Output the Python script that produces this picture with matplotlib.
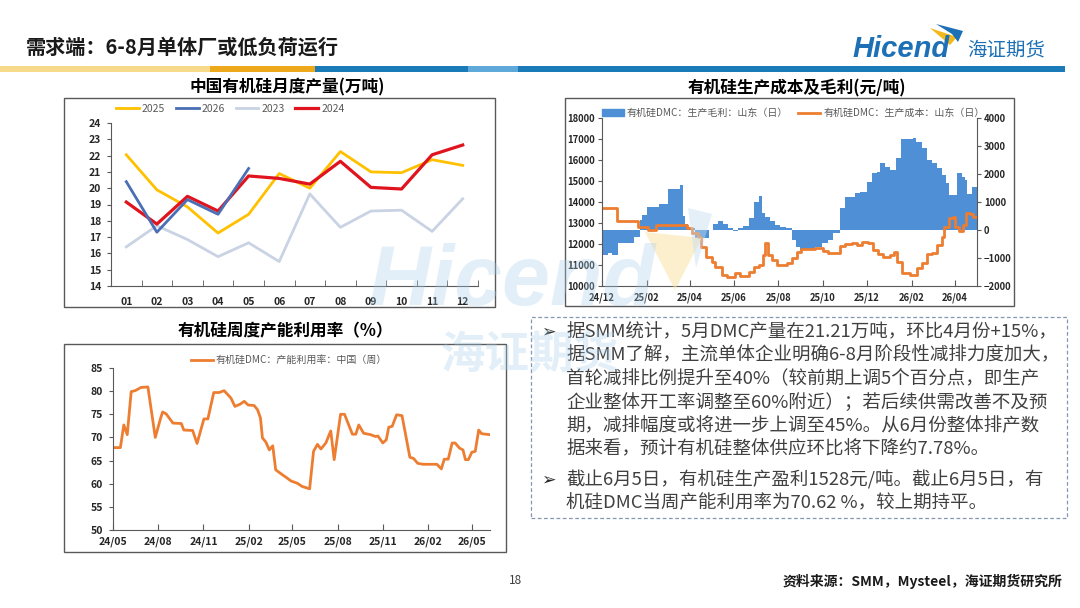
import matplotlib
matplotlib.use("Agg")
import matplotlib.pyplot as plt
import matplotlib.dates as mdates
from matplotlib.patches import Rectangle, Polygon, Patch
from matplotlib.lines import Line2D
import numpy as np
import pandas as pd

plt.rcParams["font.family"] = ["Noto Sans CJK SC", "DejaVu Sans"]

# ---- monthly production (万吨) ----
months = ["01", "02", "03", "04", "05", "06", "07", "08", "09", "10", "11", "12"]
prod_2025 = [22.05, 19.9, 18.85, 17.25, 18.4, 20.9, 20.0, 22.25, 21.0, 20.95, 21.75, 21.4]
prod_2026 = [20.4, 17.3, 19.3, 18.4, 21.21]
prod_2023 = [16.4, 17.7, 16.85, 15.8, 16.65, 15.5, 19.65, 17.6, 18.6, 18.65, 17.35, 19.35]
prod_2024 = [19.15, 17.8, 19.5, 18.6, 20.75, 20.6, 20.25, 21.65, 20.05, 19.95, 22.05, 22.65]

# ---- daily profit (right axis), change dates -> value ----
profit_dates = ["2024-12-01", "2024-12-09", "2024-12-15", "2024-12-23", "2025-01-14", "2025-01-22",
                "2025-01-25", "2025-02-01", "2025-02-17", "2025-03-02", "2025-03-19", "2025-03-22",
                "2025-03-23", "2025-03-25", "2025-03-29", "2025-04-01", "2025-04-08", "2025-04-27",
                "2025-05-03", "2025-05-10", "2025-05-17", "2025-05-24", "2025-05-31", "2025-06-07",
                "2025-06-14", "2025-06-21", "2025-06-28", "2025-07-05", "2025-07-09", "2025-07-14",
                "2025-07-21", "2025-07-28", "2025-08-04", "2025-08-11", "2025-08-20", "2025-08-25",
                "2025-08-31", "2025-09-21", "2025-09-30", "2025-10-09", "2025-10-16", "2025-10-25",
                "2025-11-01", "2025-11-15", "2025-11-22", "2025-12-01", "2025-12-08", "2025-12-15",
                "2025-12-19", "2025-12-26", "2026-01-02", "2026-01-11", "2026-01-17", "2026-02-03",
                "2026-02-07", "2026-02-15", "2026-02-22", "2026-03-01", "2026-03-08", "2026-03-15",
                "2026-03-20", "2026-03-25", "2026-04-04", "2026-04-11", "2026-04-16", "2026-04-18",
                "2026-04-25", "2026-05-02"]
profit = [-900, -830, -900, -480, -250, 360,
          540, 830, 930, 1450, 1600, 1680,
          500, 200, 100, 60, -300, 0,
          215, 334, 215, 60, -30, 60,
          143, 417, 1013, 1230, 596, 477,
          334, 179, 119, 60, -360, -600,
          -715, -596, -477, -358, -119, 775,
          1192, 1311, 1371, 1728, 2026, 2086,
          2408, 2265, 2145, 2563, 3242, 3278,
          3158, 2920, 2503, 2408, 2205, 1967,
          1669, 1252, 2050, 1907, 1788, 1287,
          1528, 1528]

# ---- daily production cost (left axis) ----
cost_dates = ["2024-12-01", "2024-12-21", "2025-01-20", "2025-02-03", "2025-02-14", "2025-03-28",
              "2025-04-04", "2025-04-13", "2025-04-17", "2025-04-24", "2025-05-01", "2025-05-06",
              "2025-05-15", "2025-05-22", "2025-06-02", "2025-06-09", "2025-06-21", "2025-06-28",
              "2025-07-05", "2025-07-11", "2025-07-14", "2025-07-18", "2025-07-23", "2025-07-30",
              "2025-08-13", "2025-08-20", "2025-08-27", "2025-09-02", "2025-09-21", "2025-10-02",
              "2025-10-09", "2025-10-25", "2025-11-01", "2025-11-10", "2025-11-17", "2025-11-24",
              "2025-12-03", "2025-12-10", "2025-12-17", "2025-12-24", "2026-01-02", "2026-01-07",
              "2026-01-12", "2026-01-18", "2026-01-30", "2026-02-08", "2026-02-15", "2026-02-22",
              "2026-03-01", "2026-03-08", "2026-03-15", "2026-03-18", "2026-03-24", "2026-03-30",
              "2026-04-02", "2026-04-07", "2026-04-13", "2026-04-17", "2026-04-23", "2026-04-27",
              "2026-05-02"]
cost = [13700, 13110, 12825, 12667, 12905, 12750,
        12540, 12350, 11870, 11400, 11160, 10920,
        10520, 10440, 10600, 10490, 10680, 10920,
        11000, 11480, 12030, 11480, 11240, 11000,
        11110, 11320, 11600, 11750, 11800, 11680,
        11560, 11900, 12000, 12060, 11950, 12110,
        12030, 11710, 11520, 11400, 11480, 11640,
        11160, 10600, 10520, 10840, 11110, 11520,
        11590, 11950, 12350, 12830, 13220, 13300,
        12830, 12640, 12900, 13490, 13430, 13270,
        13270]

# ---- weekly capacity utilisation (%) ----
util_dates = ["2024-05-03", "2024-05-16", "2024-05-23", "2024-05-30", "2024-06-07", "2024-06-15",
              "2024-06-27", "2024-07-11", "2024-07-26", "2024-08-06", "2024-08-10", "2024-08-17",
              "2024-08-31", "2024-09-17", "2024-09-22", "2024-10-10", "2024-10-19", "2024-11-02",
              "2024-11-10", "2024-11-22", "2024-12-03", "2024-12-13", "2024-12-27", "2025-01-04",
              "2025-01-15", "2025-01-23", "2025-01-31", "2025-02-12", "2025-02-19", "2025-02-25",
              "2025-03-01", "2025-03-08", "2025-03-15", "2025-03-22", "2025-03-28", "2025-04-11",
              "2025-04-18", "2025-04-28", "2025-05-11", "2025-05-21", "2025-06-05", "2025-06-13",
              "2025-06-21", "2025-06-28", "2025-07-08", "2025-07-18", "2025-07-25", "2025-08-07",
              "2025-08-15", "2025-08-31", "2025-09-07", "2025-09-13", "2025-09-23", "2025-10-07",
              "2025-10-17", "2025-10-22", "2025-11-01", "2025-11-08", "2025-11-13", "2025-11-20",
              "2025-11-29", "2025-12-10", "2025-12-26", "2026-01-02", "2026-01-11", "2026-01-22",
              "2026-02-19", "2026-02-28", "2026-03-06", "2026-03-14", "2026-03-22", "2026-03-28",
              "2026-04-06", "2026-04-13", "2026-04-18", "2026-04-24", "2026-05-01", "2026-05-08",
              "2026-05-15", "2026-05-21", "2026-06-05"]
util = [67.8, 67.8, 72.7, 70.6, 79.9, 80.1,
        80.8, 80.9, 70.0, 74.2, 75.5, 75.1,
        73.1, 73.0, 71.6, 71.5, 68.7, 74.0,
        74.0, 79.7, 79.7, 80.1, 78.5, 76.7,
        77.2, 77.8, 77.0, 76.9, 76.0, 74.2,
        69.9, 69.0, 67.3, 68.2, 63.0, 61.9,
        61.4, 60.6, 60.1, 59.4, 58.9, 67.0,
        68.5, 67.5, 68.8, 71.4, 65.2, 75.0,
        75.0, 70.7, 70.7, 72.7, 70.9, 70.6,
        70.2, 70.3, 68.8, 69.5, 72.2, 72.4,
        74.9, 74.7, 65.7, 65.5, 64.4, 64.2,
        64.2, 63.2, 65.3, 65.3, 68.8, 68.8,
        67.7, 67.3, 65.2, 65.2, 66.8, 67.0,
        71.6, 70.8, 70.62]

bullet1 = ["据SMM统计，5月DMC产量在21.21万吨，环比4月份+15%，",
           "据SMM了解，主流单体企业明确6-8月阶段性减排力度加大，",
           "首轮减排比例提升至40%（较前期上调5个百分点，即生产",
           "企业整体开工率调整至60%附近）；若后续供需改善不及预",
           "期，减排幅度或将进一步上调至45%。从6月份整体排产数",
           "据来看，预计有机硅整体供应环比将下降约7.78%。"]
bullet2 = ["截止6月5日，有机硅生产盈利1528元/吨。截止6月5日，有",
           "机硅DMC当周产能利用率为70.62 %，较上期持平。"]

W, H = 1080, 608
fig = plt.figure(figsize=(W / 100, H / 100), dpi=100)


def box(l, t, r, b):
    return fig.add_axes([l / W, 1 - b / H, (r - l) / W, (b - t) / H])


def ftext(x, y, s, **kw):
    return fig.text(x / W, 1 - y / H, s, **kw)


def frame(l, t, r, b, **kw):
    fig.add_artist(Rectangle((l / W, 1 - b / H), (r - l) / W, (b - t) / H,
                             transform=fig.transFigure, fill=False, **kw))


def poly(pts, **kw):
    fig.add_artist(Polygon([(x / W, 1 - y / H) for x, y in pts],
                           transform=fig.transFigure, **kw))


TICK = dict(fontsize=7.5, fontweight="bold", color="#262626")
LEG = "#595959"

# ---- header ----
ftext(26, 47, "需求端：6-8月单体厂或低负荷运行", fontsize=14.5, fontweight="bold",
      color="#1a1a1a", va="center")
for l, r, c in [(0, 210, "#F7D98A"), (210, 315, "#EEA81C"), (315, 468, "#1B7BB8"),
                (468, 518, "#5EA8DA"), (518, 1065, "#1B7BB8")]:
    fig.add_artist(Rectangle((l / W, 1 - 72 / H), (r - l) / W, 6 / H,
                             transform=fig.transFigure, color=c, lw=0))
ftext(852, 49, "Hicend", fontsize=21, fontweight="bold", fontstyle="italic",
      family="Liberation Sans", color="#1D70B6", va="center")
ftext(967, 50, "海证期货", fontsize=14, color="#1D70B6", va="center")
poly([(930, 28), (957, 37), (950, 45)], color="#F3B81B", lw=0)
poly([(936, 24), (963, 31), (958, 42), (952, 34)], color="#1D70B6", lw=0)

# ---- chart 1: monthly production ----
frame(64, 98, 495, 307, edgecolor="#595959", lw=1)
ftext(287, 87, "中国有机硅月度产量(万吨)", fontsize=12, fontweight="bold", ha="center", va="center")
ax1 = box(111, 123, 478, 286)
x = np.arange(1, 13)
l23, = ax1.plot(x, prod_2023, color="#C9D3E3", lw=2)
l25, = ax1.plot(x, prod_2025, color="#FFC000", lw=2)
l24, = ax1.plot(x, prod_2024, color="#E0141E", lw=2.3)
l26, = ax1.plot(x[:len(prod_2026)], prod_2026, color="#4A6FB5", lw=2)
ax1.set_xlim(0.5, 12.5)
ax1.set_ylim(14, 24)
ax1.set_yticks(range(14, 25))
ax1.set_xticks(x)
ax1.set_xticklabels(months)
ax1.set_xticks(np.arange(1.5, 13, 1), minor=True)
ax1.tick_params(axis="x", which="major", length=0, pad=8)
ax1.tick_params(axis="x", which="minor", direction="in", length=4, color="#595959")
ax1.tick_params(axis="y", direction="out", length=3, color="#595959", pad=4)
for lab in ax1.get_xticklabels() + ax1.get_yticklabels():
    lab.set(**TICK)
for s in ["top", "right"]:
    ax1.spines[s].set_visible(False)
for s in ["left", "bottom"]:
    ax1.spines[s].set_color("#595959")
fig.legend([l25, l26, l23, l24], ["2025", "2026", "2023", "2024"], loc="center left",
           bbox_to_anchor=(116 / W, 1 - 109 / H), ncol=4, frameon=False, fontsize=7.5,
           handlelength=2.2, handletextpad=0.3, columnspacing=1.0, labelcolor=LEG,
           borderaxespad=0, borderpad=0)

# ---- chart 2: cost and profit ----
frame(565, 98, 1014, 306, edgecolor="#595959", lw=1)
ftext(797, 88, "有机硅生产成本及毛利(元/吨)", fontsize=12, fontweight="bold", ha="center", va="center")
axp = box(602, 118, 977, 286)
axc = axp.twinx()          # cost line drawn above the profit area
pd_dates = pd.to_datetime(profit_dates)
cd_dates = pd.to_datetime(cost_dates)
axp.fill_between(pd_dates, profit, 0, step="post", color="#4E8FD6", lw=0)
axp.set_ylim(-2000, 4000)
axp.set_yticks(range(-2000, 4001, 1000))
axc.step(cd_dates, cost, where="post", color="#ED7D31", lw=2)
axc.set_ylim(10000, 18000)
axc.set_yticks(range(10000, 18001, 1000))
axp.yaxis.tick_right()
axc.yaxis.tick_left()
axp.set_xlim(pd.Timestamp("2024-12-01"), pd.Timestamp("2026-05-02"))
ticks2 = pd.date_range("2024-12-01", "2026-04-01", freq="2MS")
axp.set_xticks(ticks2)
axp.xaxis.set_major_formatter(mdates.DateFormatter("%y/%m"))
axp.tick_params(axis="x", direction="in", length=4, color="#595959", pad=5)
axp.tick_params(axis="y", direction="out", length=3, color="#595959", pad=2)
axc.tick_params(axis="y", direction="out", length=3, color="#595959", pad=2)
for lab in axp.get_xticklabels() + axp.get_yticklabels() + axc.get_yticklabels():
    lab.set(fontsize=6.8, fontweight="bold", color="#262626")
for a in (axp, axc):
    for s in a.spines.values():
        s.set_visible(False)
axp.spines["right"].set_visible(True)
axp.spines["bottom"].set_visible(True)
axc.spines["left"].set_visible(True)
for s in (axp.spines["right"], axp.spines["bottom"], axc.spines["left"]):
    s.set_color("#595959")
fig.legend([Patch(color="#4E8FD6"), Line2D([], [], color="#ED7D31", lw=2)],
           ["有机硅DMC：生产毛利：山东（日）", "有机硅DMC：生产成本：山东（日）"],
           loc="center left", bbox_to_anchor=(602 / W, 1 - 113 / H), ncol=2, frameon=False,
           fontsize=7.2, handlelength=2.2, handleheight=0.7, handletextpad=0.3,
           columnspacing=1.0, labelcolor=LEG, borderaxespad=0, borderpad=0)

# ---- chart 3: weekly utilisation ----
frame(64, 344, 506, 552, edgecolor="#595959", lw=1)
ftext(285, 331, "有机硅周度产能利用率（%）", fontsize=12, fontweight="bold", ha="center", va="center")
ax3 = box(113, 368, 490, 530)
ax3.plot(pd.to_datetime(util_dates), util, color="#ED7D31", lw=2)
ax3.set_ylim(50, 85)
ax3.set_yticks(range(50, 86, 5))
ax3.set_xlim(pd.Timestamp("2024-05-01"), pd.Timestamp("2026-06-07"))
ax3.set_xticks(pd.date_range("2024-05-01", "2026-05-01", freq="3MS"))
ax3.xaxis.set_major_formatter(mdates.DateFormatter("%y/%m"))
ax3.tick_params(axis="x", direction="in", length=4, color="#595959", pad=5)
ax3.tick_params(axis="y", direction="out", length=3, color="#595959", pad=4)
for lab in ax3.get_xticklabels() + ax3.get_yticklabels():
    lab.set(**TICK)
for s in ["top", "right"]:
    ax3.spines[s].set_visible(False)
for s in ["left", "bottom"]:
    ax3.spines[s].set_color("#595959")
fig.legend([Line2D([], [], color="#ED7D31", lw=2)], ["有机硅DMC：产能利用率：中国（周）"],
           loc="center", bbox_to_anchor=(289 / W, 1 - 360 / H), frameon=False, fontsize=7.2,
           handlelength=2.2, handletextpad=0.3, labelcolor=LEG, borderaxespad=0, borderpad=0)

# ---- commentary box ----
frame(531, 317, 1067, 518, edgecolor="#8497B0", lw=0.9, linestyle=(0, (3, 2)))
TXT = dict(fontsize=13.3, color="#404040", va="center")
ftext(541, 332, "➢", fontsize=12.5, color="#262626", va="center",
      family=["DejaVu Sans", "Noto Sans CJK SC"])
for i, line in enumerate(bullet1):
    ftext(566, 332 + i * 23.5, line, **TXT)
ftext(541, 480, "➢", fontsize=12.5, color="#262626", va="center",
      family=["DejaVu Sans", "Noto Sans CJK SC"])
for i, line in enumerate(bullet2):
    ftext(566, 480 + i * 23.5, line, **TXT)

# ---- watermark ----
ftext(368, 283, "Hicend", fontsize=62, fontweight="bold", fontstyle="italic",
      family="Liberation Sans", color="#A9CFEA", alpha=0.32, va="center", zorder=10)
ftext(440, 355, "海证期货", fontsize=32, fontweight="bold", color="#A9CFEA", alpha=0.32,
      va="center", zorder=10)
poly([(645, 232), (702, 238), (675, 290)], color="#FBE3A6", alpha=0.55, lw=0, zorder=10)
poly([(688, 208), (712, 214), (696, 268)], color="#C4DDF0", alpha=0.45, lw=0, zorder=10)

# ---- footer ----
ftext(516, 581, "18", fontsize=8.5, color="#404040", ha="center", va="center")
ftext(1062, 581, "资料来源：SMM，Mysteel，海证期货研究所", fontsize=10, fontweight="bold",
      color="#1a1a1a", ha="right", va="center")

fig.savefig("out.png", dpi=100)
